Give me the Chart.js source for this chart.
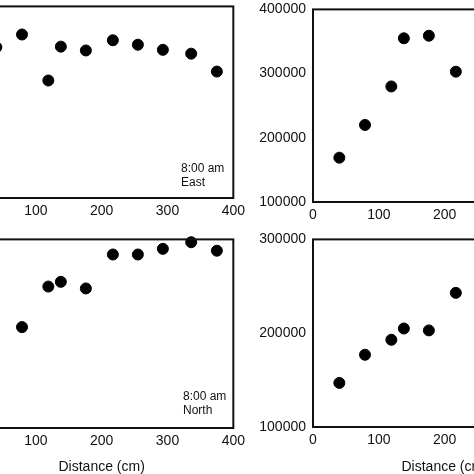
<!DOCTYPE html>
<html>
<head>
<meta charset="utf-8">
<script src="https://cdn.jsdelivr.net/npm/chart.js@4.4.0/dist/chart.umd.min.js"></script>
<style>
html, body { margin: 0; padding: 0; background: #fff; }
#fig { position: relative; width: 474px; height: 474px; overflow: hidden; background: #fff; }
#fig canvas { position: absolute; }
.note { position: absolute; font: 12px "Liberation Sans", Arial, sans-serif; line-height: 14px; color: #111; white-space: nowrap; }
</style>
</head>
<body>
<div id="fig">
  <canvas id="eastLeft" width="345" height="235" style="left:-95px; top:-9px"></canvas>
  <canvas id="eastRight" width="345" height="236" style="left:248px; top:-6px"></canvas>
  <canvas id="northLeft" width="345" height="252" style="left:-95px; top:224px"></canvas>
  <canvas id="northRight" width="345" height="252" style="left:248px; top:224px"></canvas>
  <div class="note" style="left:181px; top:161px">8:00 am<br>East</div>
  <div class="note" style="left:183px; top:389px">8:00 am<br>North</div>
</div>
<script>
// distance from the source (cm), shared by all panels
const distance = [40, 79, 119, 138, 176, 217, 255, 293, 336, 375];

const eastLeftVals = [336000, 356000, 284000, 337000, 331000, 347000, 340000, 332000, 326000, 298000];
const northLeftVals = [null, 207000, 250000, 255000, 248000, 284000, 284000, 290000, 297000, 288000];
const eastRightVals = [169000, 220000, 280000, 355000, 359000, 303000];
const northRightVals = [147000, 177000, 193000, 205000, 203000, 243000];

const xTicks = [0, 100, 200, 300, 400];
const fontFamily = '"Liberation Sans", Arial, sans-serif';

// box around the plot area
const frame = {
    id: 'frame',
    afterDraw(chart) {
        const a = chart.chartArea;
        const ctx = chart.ctx;
        ctx.save();
        ctx.strokeStyle = '#111';
        ctx.lineWidth = 2;
        ctx.strokeRect(a.left, a.top, a.right - a.left, a.bottom - a.top);
        ctx.restore();
    }
};

function toPoints(vals) {
    return vals.map((v, i) => ({ x: distance[i], y: v })).filter(p => p.y !== null);
}

function makePanel(id, vals, yMin, yMax, withTitle, xHeight) {
    new Chart(document.getElementById(id), {
        type: 'scatter',
        data: {
            datasets: [{
                data: toPoints(vals),
                backgroundColor: '#000',
                borderColor: '#000',
                pointRadius: 5.5,
                pointHoverRadius: 5.5,
                clip: false
            }]
        },
        options: {
            responsive: false,
            animation: false,
            layout: { padding: { left: 5, right: 16, top: 0, bottom: 0 } },
            plugins: { legend: { display: false }, tooltip: { enabled: false } },
            scales: {
                x: {
                    type: 'linear',
                    min: xTicks[0],
                    max: xTicks[xTicks.length - 1],
                    afterBuildTicks: s => { s.ticks = xTicks.map(v => ({ value: v })); },
                    ticks: { padding: 5, color: '#111', font: { family: fontFamily, size: 14 } },
                    grid: { display: false, drawTicks: false },
                    border: { display: false },
                    title: {
                        display: withTitle,
                        text: 'Distance (cm)',
                        color: '#111',
                        font: { family: fontFamily, size: 14 },
                        padding: { top: 0, bottom: 0 }
                    },
                    afterFit: s => { s.height = xHeight; }
                },
                y: {
                    min: yMin,
                    max: yMax,
                    ticks: {
                        stepSize: 100000,
                        padding: 7,
                        color: '#111',
                        font: { family: fontFamily, size: 14 },
                        callback: v => String(v)
                    },
                    grid: { display: false, drawTicks: false },
                    border: { display: false },
                    afterFit: s => { s.width = 60; }
                }
            }
        },
        plugins: [frame]
    });
}

makePanel('eastLeft', eastLeftVals, 100000, 400000, false, 28);
makePanel('eastRight', eastRightVals, 100000, 400000, false, 28);
makePanel('northLeft', northLeftVals, 100000, 300000, true, 48);
makePanel('northRight', northRightVals, 100000, 300000, true, 49);
</script>
</body>
</html>
